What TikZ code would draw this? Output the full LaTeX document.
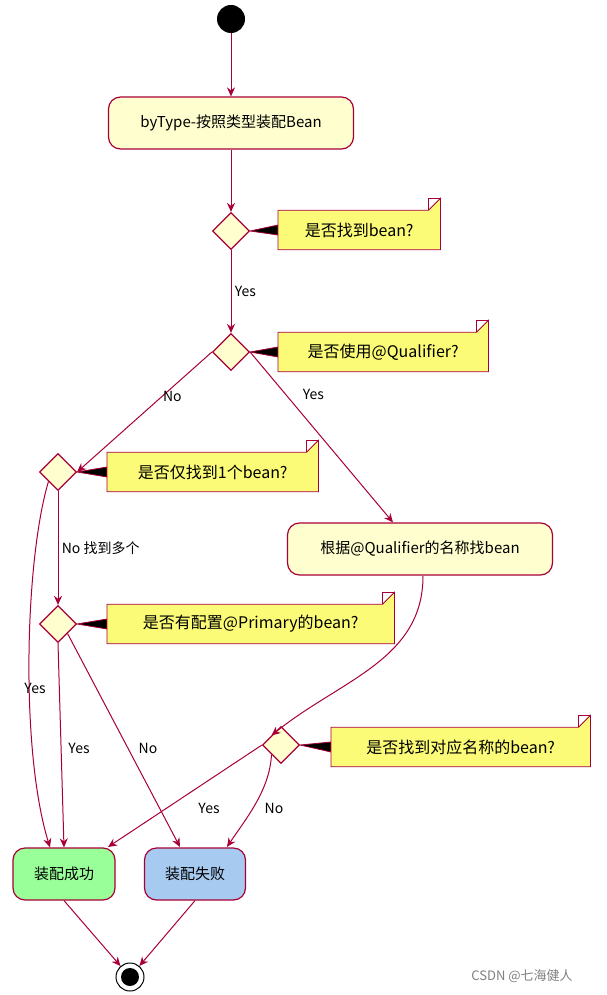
\documentclass[tikz,border=0pt]{standalone}
\usepackage{fontspec}
\setmainfont{Noto Sans CJK SC}
\usetikzlibrary{arrows.meta,shapes.geometric}
\definecolor{bd}{HTML}{A80036}
\definecolor{act}{HTML}{FEFECE}
\definecolor{nt}{HTML}{FBFB77}
\begin{document}
\begin{tikzpicture}[x=1pt,y=-1pt,
 act/.style={draw=bd,line width=1.2pt,fill=act,rounded corners=12pt,minimum height=52pt,inner xsep=12pt,font=\fontsize{15}{18}\selectfont},
 dia/.style={draw=bd,line width=1.2pt,fill=act,diamond,minimum width=37pt,minimum height=37pt,inner sep=0pt},
 nt/.style={minimum height=39pt,inner xsep=10pt,anchor=west,font=\fontsize{16}{19}\selectfont},
 ar/.style={draw=bd,line width=1pt,-{Stealth[length=9pt,width=8pt]}},
 lb/.style={font=\fontsize{14}{16}\selectfont}]
\useasboundingbox (0,0) rectangle (607,995);
\node[circle,fill=black,minimum size=28pt,inner sep=0] (start) at (231,19) {};
\node[act,minimum width=245pt] (b1) at (231,123) {byType-按照类型装配Bean};
\node[dia] (d1) at (231,231) {};
\node[dia] (d2) at (231,352) {};
\node[dia] (d3) at (58,472) {};
\node[dia] (d4) at (58,624) {};
\node[dia] (d5) at (281,745) {};
\node[act,minimum width=265pt] (b2) at (420,549) {根据@Qualifier的名称找bean};
\node[act,minimum width=102pt,fill=green!40!white,fill={rgb,255:red,153;green,255;blue,153}] (ok) at (64,874) {装配成功};
\node[act,minimum width=101pt,fill={rgb,255:red,166;green,202;blue,240}] (fail) at (195,874) {装配失败};
\node[circle,draw=black,line width=1pt,fill=white,minimum size=28pt,inner sep=0] (end) at (130,977) {};
\node[circle,fill=black,minimum size=18pt,inner sep=0] at (end) {};
\newcommand{\mynote}[5]{%
 \node[nt,minimum width=#3] (#1) at (#2) {#4};
 \fill[nt,draw=bd,line width=0.8pt] (#5.east) -- ([yshift=-5]#1.west) -- ([yshift=5]#1.west) -- cycle;
 \draw[fill=nt,draw=bd,line width=0.8pt] (#1.south west) -- (#1.north west) -- ([xshift=-12]#1.north east) -- ([yshift=12]#1.north east) -- (#1.south east) -- cycle;
 \draw[draw=bd,line width=0.8pt] ([xshift=-12]#1.north east) -- ([xshift=-12,yshift=12]#1.north east) -- ([yshift=12]#1.north east);
 \node[nt,minimum width=#3] at (#2) {#4};}
\mynote{n1}{278,230}{162pt}{是否找到bean?}{d1}
\mynote{n2}{278,352}{210pt}{是否使用@Qualifier?}{d2}
\mynote{n3}{107,472}{211pt}{是否仅找到1个bean?}{d3}
\mynote{n4}{107,624}{287pt}{是否有配置@Primary的bean?}{d4}
\mynote{n5}{331,747}{259pt}{是否找到对应名称的bean?}{d5}
\draw[ar] (start) -- (b1);
\draw[ar] (b1) -- (d1);
\draw[ar] (d1) -- node[lb,right,pos=0.5]{Yes} (d2);
\draw[ar] (d2.west) -- node[lb,pos=0.45,above right,xshift=8pt]{No} (d3.east);
\draw[ar] (d2.east) -- node[lb,pos=0.3,above right,xshift=6pt]{Yes} (b2.north west -| 393,0) ;
\draw[ar] (d3) -- node[lb,right,pos=0.5]{No 找到多个} (d4);
\draw[ar] (d3.south west) .. controls (25,560) and (20,750) .. node[lb,pos=0.6,left,xshift=4pt]{} ([xshift=-14]ok.north);
\node[lb] at (35,688) {Yes};
\draw[ar] (d4.south) -- ([xshift=0]ok.north);
\node[lb] at (79,748) {Yes};
\draw[ar] (d4.south east) -- (180,847);
\node[lb] at (148,748) {No};
\draw[ar] (423,576) .. controls (423,660) and (340,680) .. (d5.north west);
\draw[ar] (d5.west) -- (108,847);
\node[lb] at (209,808) {Yes};
\draw[ar] (d5.south west) .. controls (270,790) and (245,820) .. (227,847);
\node[lb] at (274,808) {No};
\draw[ar] (ok.south) -- (end);
\draw[ar] (fail.south) -- (end);
\node[font=\fontsize{13}{15}\selectfont,text=gray] at (522,976) {CSDN @七海健人};
\end{tikzpicture}
\end{document}
